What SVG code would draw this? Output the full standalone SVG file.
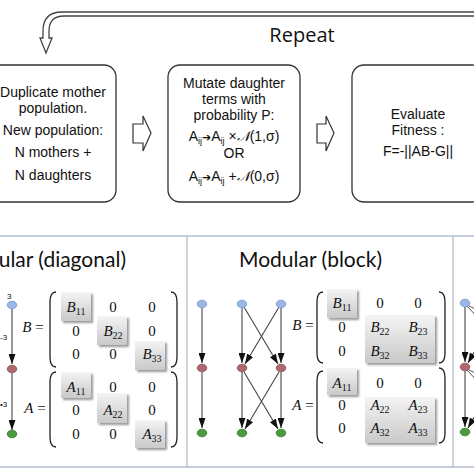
<svg xmlns="http://www.w3.org/2000/svg" width="474" height="474" viewBox="0 0 474 474">
<defs>
<style>
.box{fill:#fff;stroke:#333;stroke-width:1.3}
.bt{font-family:"Liberation Sans",Arial,sans-serif;font-size:14px;fill:#111;text-anchor:middle}
.ttl{font-family:Lato,"Open Sans",sans-serif;font-size:21px;fill:#111}
.mx{font-family:"Liberation Serif","Times New Roman",serif;font-size:15px;fill:#111;text-anchor:middle}
.it{font-style:italic}
.sub{font-size:10px}
.par{fill:none;stroke:#222;stroke-width:1.3}
.cell{fill:url(#cg);filter:url(#sh)}
.edge{stroke:#444;stroke-width:1.1;fill:none;marker-end:url(#ah)}
.pl{stroke:#b4bdcf;stroke-width:1.3;fill:none}
.nb{fill:#9ab8e6;stroke:#7293cc;stroke-width:0.8}
.nr{fill:#b06870;stroke:#8e4a52;stroke-width:0.8}
.ng{fill:#4c9a3e;stroke:#357a2a;stroke-width:0.8}
.lbl{font-family:"Liberation Sans",Arial,sans-serif;font-size:8px;fill:#111}
</style>
<linearGradient id="cg" x1="0" y1="0" x2="0" y2="1">
<stop offset="0" stop-color="#f4f4f4"/>
<stop offset="1" stop-color="#c9c9c9"/>
</linearGradient>
<filter id="sh" x="-20%" y="-20%" width="150%" height="150%">
<feGaussianBlur in="SourceAlpha" stdDeviation="1.2" result="b"/>
<feOffset in="b" dx="1.5" dy="1.5" result="o"/>
<feComponentTransfer in="o" result="s"><feFuncA type="linear" slope="0.4"/></feComponentTransfer>
<feMerge><feMergeNode in="s"/><feMergeNode in="SourceGraphic"/></feMerge>
</filter>
<marker id="ah" markerUnits="userSpaceOnUse" markerWidth="10" markerHeight="7" refX="10" refY="3.5" orient="auto">
<path d="M0,0 L10,3.5 L0,7 z" fill="#111"/>
</marker>
</defs>
<rect width="474" height="474" fill="#fff"/>

<g id="repeat">
<path d="M480 12 H62 Q43 12 43 31 V38 H40 L46 53 L52 38 H49 V31 Q49 16 64 16 H480" fill="#fff" stroke="#444" stroke-width="1.3"/>
<text x="302" y="42" font-family="'Open Sans',sans-serif" font-size="20" fill="#111" text-anchor="middle">Repeat</text>
</g>

<g id="box1">
<rect class="box" x="-16" y="65" width="132" height="137" rx="12"/>
<text class="bt" x="53" y="97">Duplicate mother</text>
<text class="bt" x="53" y="113">population.</text>
<text class="bt" x="53" y="135">New population:</text>
<text class="bt" x="53" y="157">N mothers +</text>
<text class="bt" x="53" y="180">N daughters</text>
</g>

<g id="box2">
<rect class="box" x="168" y="65" width="132" height="137" rx="12"/>
<text class="bt" x="234" y="88">Mutate daughter</text>
<text class="bt" x="234" y="104">terms with</text>
<text class="bt" x="234" y="120">probability P:</text>
<text class="bt" x="234" y="141">A<tspan font-size="9" dy="3">ij</tspan><tspan dy="-3" font-family="'DejaVu Sans',sans-serif" font-size="11">➔</tspan>A<tspan font-size="9" dy="3">ij</tspan><tspan dy="-3"> ×</tspan><tspan font-family="'DejaVu Serif','DejaVu Sans',serif" font-style="italic">𝒩</tspan>(1,σ)</text>
<text class="bt" x="234" y="158">OR</text>
<text class="bt" x="234" y="181">A<tspan font-size="9" dy="3">ij</tspan><tspan dy="-3" font-family="'DejaVu Sans',sans-serif" font-size="11">➔</tspan>A<tspan font-size="9" dy="3">ij</tspan><tspan dy="-3"> +</tspan><tspan font-family="'DejaVu Serif','DejaVu Sans',serif" font-style="italic">𝒩</tspan>(0,σ)</text>
</g>

<g id="box3">
<rect class="box" x="352" y="65" width="132" height="137" rx="12"/>
<text class="bt" x="418" y="119">Evaluate</text>
<text class="bt" x="418" y="135">Fitness :</text>
<text class="bt" x="418" y="156">F=-||AB-G||</text>
</g>

<g id="flow-arrows" fill="#fff" stroke="#333" stroke-width="1.2">
<polygon points="133,124 143,124 143,116 151,133 143,151 143,143 133,143"/>
<polygon points="317,124 326,124 326,116 334,133 326,151 326,143 317,143"/>
</g>

<g id="panels">
<path class="pl" d="M0 236 H474 M0 467 H474 M187 236 V467 M453 236 V467"/>
</g>

<g id="diag-panel">
<text class="ttl" x="126" y="267" text-anchor="end">ular (diagonal)</text>
<text class="lbl" x="7" y="299">3</text>
<text class="lbl" x="0" y="340">-3</text>
<text class="lbl" x="0" y="407">•3</text>
<text class="mx" x="33" y="332"><tspan class="it">B</tspan> =</text>
<text class="mx" x="35" y="413"><tspan class="it">A</tspan> =</text>
<path class="par" d="M56 292 Q50 292 50 302 V357 Q50 367 56 367 M171 292 Q177 292 177 302 V357 Q177 367 171 367"/>
<path class="par" d="M56 372 Q50 372 50 382 V437 Q50 447 56 447 M171 372 Q177 372 177 382 V437 Q177 447 171 447"/>
<rect class="cell" x="61" y="292" width="30" height="29"/>
<rect class="cell" x="97" y="316" width="30" height="29"/>
<rect class="cell" x="135" y="341" width="30" height="29"/>
<rect class="cell" x="61" y="372" width="30" height="26"/>
<rect class="cell" x="97" y="393" width="30" height="30"/>
<rect class="cell" x="135" y="420" width="30" height="28"/>
<text class="mx" x="76" y="312"><tspan class="it">B</tspan><tspan class="sub" dy="3">11</tspan></text>
<text class="mx" x="113" y="312">0</text>
<text class="mx" x="152" y="312">0</text>
<text class="mx" x="76" y="336">0</text>
<text class="mx" x="113" y="336"><tspan class="it">B</tspan><tspan class="sub" dy="3">22</tspan></text>
<text class="mx" x="152" y="336">0</text>
<text class="mx" x="76" y="359">0</text>
<text class="mx" x="113" y="359">0</text>
<text class="mx" x="152" y="359"><tspan class="it">B</tspan><tspan class="sub" dy="3">33</tspan></text>
<text class="mx" x="76" y="392"><tspan class="it">A</tspan><tspan class="sub" dy="3">11</tspan></text>
<text class="mx" x="113" y="392">0</text>
<text class="mx" x="152" y="392">0</text>
<text class="mx" x="76" y="415">0</text>
<text class="mx" x="113" y="415"><tspan class="it">A</tspan><tspan class="sub" dy="3">22</tspan></text>
<text class="mx" x="152" y="415">0</text>
<text class="mx" x="76" y="439">0</text>
<text class="mx" x="113" y="439">0</text>
<text class="mx" x="152" y="439"><tspan class="it">A</tspan><tspan class="sub" dy="3">33</tspan></text>
</g>

<g id="block-panel">
<text class="ttl" x="239" y="267">Modular (block)</text>
<text class="mx" x="303" y="330"><tspan class="it">B</tspan> =</text>
<text class="mx" x="303" y="410"><tspan class="it">A</tspan> =</text>
<path class="par" d="M323 292 Q317 292 317 302 V353 Q317 363 323 363 M439 292 Q445 292 445 302 V353 Q445 363 439 363"/>
<path class="par" d="M323 371 Q317 371 317 381 V433 Q317 443 323 443 M439 368 Q445 368 445 378 V433 Q445 443 439 443"/>
<rect class="cell" x="327" y="289" width="30" height="29"/>
<rect class="cell" x="365" y="315" width="70" height="48"/>
<rect class="cell" x="327" y="368" width="30" height="27"/>
<rect class="cell" x="365" y="397" width="70" height="46"/>
<text class="mx" x="342" y="308"><tspan class="it">B</tspan><tspan class="sub" dy="3">11</tspan></text>
<text class="mx" x="380" y="308">0</text>
<text class="mx" x="418" y="308">0</text>
<text class="mx" x="342" y="332">0</text>
<text class="mx" x="380" y="332"><tspan class="it">B</tspan><tspan class="sub" dy="3">22</tspan></text>
<text class="mx" x="418" y="332"><tspan class="it">B</tspan><tspan class="sub" dy="3">23</tspan></text>
<text class="mx" x="342" y="356">0</text>
<text class="mx" x="380" y="356"><tspan class="it">B</tspan><tspan class="sub" dy="3">32</tspan></text>
<text class="mx" x="418" y="356"><tspan class="it">B</tspan><tspan class="sub" dy="3">33</tspan></text>
<text class="mx" x="342" y="388"><tspan class="it">A</tspan><tspan class="sub" dy="3">11</tspan></text>
<text class="mx" x="380" y="388">0</text>
<text class="mx" x="418" y="388">0</text>
<text class="mx" x="342" y="410">0</text>
<text class="mx" x="380" y="410"><tspan class="it">A</tspan><tspan class="sub" dy="3">22</tspan></text>
<text class="mx" x="418" y="410"><tspan class="it">A</tspan><tspan class="sub" dy="3">23</tspan></text>
<text class="mx" x="342" y="433">0</text>
<text class="mx" x="380" y="433"><tspan class="it">A</tspan><tspan class="sub" dy="3">32</tspan></text>
<text class="mx" x="418" y="433"><tspan class="it">A</tspan><tspan class="sub" dy="3">33</tspan></text>
</g>

<g id="connectors">
<line class="edge" x1="12" y1="309" x2="12" y2="364"/>
<line class="edge" x1="12" y1="373" x2="12" y2="430"/>
<line class="edge" x1="202" y1="308" x2="202" y2="363"/>
<line class="edge" x1="202" y1="372" x2="202" y2="428"/>
<line class="edge" x1="242" y1="308" x2="242" y2="363"/>
<line class="edge" x1="242" y1="372" x2="242" y2="428"/>
<line class="edge" x1="281" y1="308" x2="281" y2="363"/>
<line class="edge" x1="281" y1="372" x2="281" y2="428"/>
<line class="edge" x1="244" y1="307" x2="278" y2="364"/>
<line class="edge" x1="279" y1="307" x2="245" y2="364"/>
<line class="edge" x1="244" y1="372" x2="278" y2="429"/>
<line class="edge" x1="279" y1="372" x2="245" y2="429"/>
<line class="edge" x1="465" y1="307" x2="465" y2="362"/>
<line class="edge" x1="465" y1="371" x2="465" y2="427"/>
<line class="edge" x1="500" y1="306" x2="468" y2="363"/>
<line class="edge" x1="500" y1="371" x2="468" y2="428"/>
<line x1="467" y1="306" x2="480" y2="320" stroke="#444" stroke-width="0.9"/>
<line x1="467" y1="305" x2="490" y2="316" stroke="#444" stroke-width="0.9"/>
<line x1="467" y1="370" x2="480" y2="384" stroke="#444" stroke-width="0.9"/>
<line x1="467" y1="369" x2="490" y2="380" stroke="#444" stroke-width="0.9"/>
</g>

<g id="nodes">
<ellipse class="nb" cx="12" cy="305" rx="4.8" ry="3.8"/>
<ellipse class="nr" cx="12" cy="369" rx="4.8" ry="3.8"/>
<ellipse class="ng" cx="12" cy="434" rx="4.8" ry="3.8"/>
<ellipse class="nb" cx="202" cy="304" rx="4.8" ry="3.8"/>
<ellipse class="nr" cx="202" cy="368" rx="4.8" ry="3.8"/>
<ellipse class="ng" cx="202" cy="433" rx="4.8" ry="3.8"/>
<ellipse class="nb" cx="242" cy="304" rx="4.8" ry="3.8"/>
<ellipse class="nr" cx="242" cy="368" rx="4.8" ry="3.8"/>
<ellipse class="ng" cx="242" cy="433" rx="4.8" ry="3.8"/>
<ellipse class="nb" cx="281" cy="304" rx="4.8" ry="3.8"/>
<ellipse class="nr" cx="281" cy="368" rx="4.8" ry="3.8"/>
<ellipse class="ng" cx="281" cy="433" rx="4.8" ry="3.8"/>
<ellipse class="nb" cx="465" cy="303" rx="4.8" ry="3.8"/>
<ellipse class="nr" cx="465" cy="367" rx="4.8" ry="3.8"/>
<ellipse class="ng" cx="465" cy="432" rx="4.8" ry="3.8"/>
</g>
</svg>
